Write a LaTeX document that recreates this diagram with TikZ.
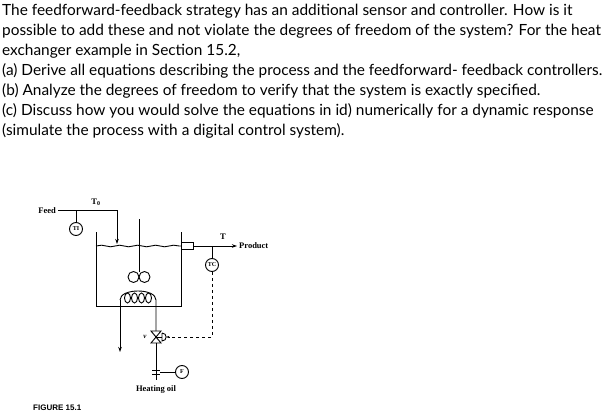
\documentclass[tikz,border=0pt]{standalone}
\usepackage{fontspec}
\setmainfont{Liberation Serif}
\newfontfamily\qfont{Lato}
\newfontfamily\figfont{Liberation Sans}
\usetikzlibrary{arrows.meta,decorations.pathmorphing}
\begin{document}
\begin{tikzpicture}[x=1pt,y=-1pt,
  qline/.style={anchor=west,inner sep=0pt,font=\qfont\fontsize{15.4}{17}\selectfont},
  pipe/.style={line width=0.9pt},
  inst/.style={circle,draw,line width=0.9pt,minimum size=13pt,inner sep=0pt,font=\fontsize{6}{6}\selectfont\bfseries},
  lbl/.style={inner sep=0pt,font=\fontsize{8.5}{9}\selectfont\bfseries},
  arr/.style={pipe,-{Stealth[length=5pt,width=3.5pt]}}]
\useasboundingbox (0,0) rectangle (616,417);
\node[qline] (l1) at (2,11) {The feedforward-feedback strategy has an additional sensor and controller. How is it};
\node[qline] (l2) at (2,31) {possible to add these and not violate the degrees of freedom of the system? For the heat};
\node[qline] (l3) at (2,51) {exchanger example in Section 15.2,};
\node[qline] (l4) at (2,71) {(a) Derive all equations describing the process and the feedforward- feedback controllers.};
\node[qline] (l5) at (2,91) {(b) Analyze the degrees of freedom to verify that the system is exactly specified.};
\node[qline] (l6) at (2,111) {(c) Discuss how you would solve the equations in id) numerically for a dynamic response};
\node[qline] (l7) at (2,131) {(simulate the process with a digital control system).};
% feed
\node[lbl,anchor=east] (feed) at (56,211) {Feed};
\node[lbl] (t0) at (96,202) {T$_{\mathbf 0}$};
\coordinate (f1) at (58,210);
\coordinate (f2) at (117,210);
\coordinate (f3) at (117,244);
\draw[pipe] (f1) -- (f2);
\draw[arr] (f2) -- (f3);
\node[inst] (ti) at (76,229) {TI};
\draw[pipe] (76,210) -- (ti);
% tank
\coordinate (tl) at (96,232);
\coordinate (tr) at (181,232);
\draw[pipe] (tl) -- (96,306) -- (181,306) -- (tr);
\draw[pipe,decorate,decoration={snake,amplitude=0.8pt,segment length=18pt}] (96,246) -- (181,246);
% outlet nozzle
\draw[pipe] (181,242) -- (193,242) -- (193,249) -- (181,249);
\coordinate (p1) at (193,246);
\coordinate (p2) at (237,246);
\draw[arr] (p1) -- (p2);
\node[lbl,anchor=west] (prod) at (239,246) {Product};
\node[lbl] (tt) at (223,237) {T};
\node[inst] (tc) at (212,265) {TC};
\draw[pipe] (212,246) -- (tc);
% stirrer
\draw[pipe] (139,219) -- (139,272);
\draw[pipe] (133.5,277) circle (5.5);
\draw[pipe] (144.5,277) circle (5.5);
% coil
\draw[arr] (120,300) -- (120,352);
\draw[pipe] (120,300) .. controls (120,288) and (156,288) .. (156,300) -- (156,331);
\foreach \i in {0,...,3} \draw[pipe] (127.5+7*\i,298) ellipse (3 and 5);
% valve
\coordinate (vc) at (156,337);
\draw[pipe] (151,331) -- (161,331) -- (151,343) -- (161,343) -- cycle;
\draw[pipe] (156,337) -- (162,337);
\draw[pipe] (162,333) -- (162,341) .. controls (167.5,341) and (167.5,333) .. (162,333);
\node[lbl,font=\fontsize{7}{8}\selectfont\itshape\bfseries] (v) at (145,337) {v};
\draw[pipe,dashed,-{Latex[length=3pt]}] (tc) -- (212,337) -- (166,337);
\draw[pipe] (156,343) -- (156,380);
% orifice
\draw[pipe] (152,370) -- (160,370);
\draw[pipe] (152,374) -- (160,374);
\node[inst] (fl) at (182,372) {F};
\draw[pipe] (160,372) -- (fl);
\node[lbl] (oil) at (156,389) {Heating oil};
\node[anchor=west,inner sep=0pt,font=\figfont\fontsize{8}{8}\selectfont\bfseries] (fig) at (33,408) {FIGURE 15.1};
\end{tikzpicture}
\end{document}
